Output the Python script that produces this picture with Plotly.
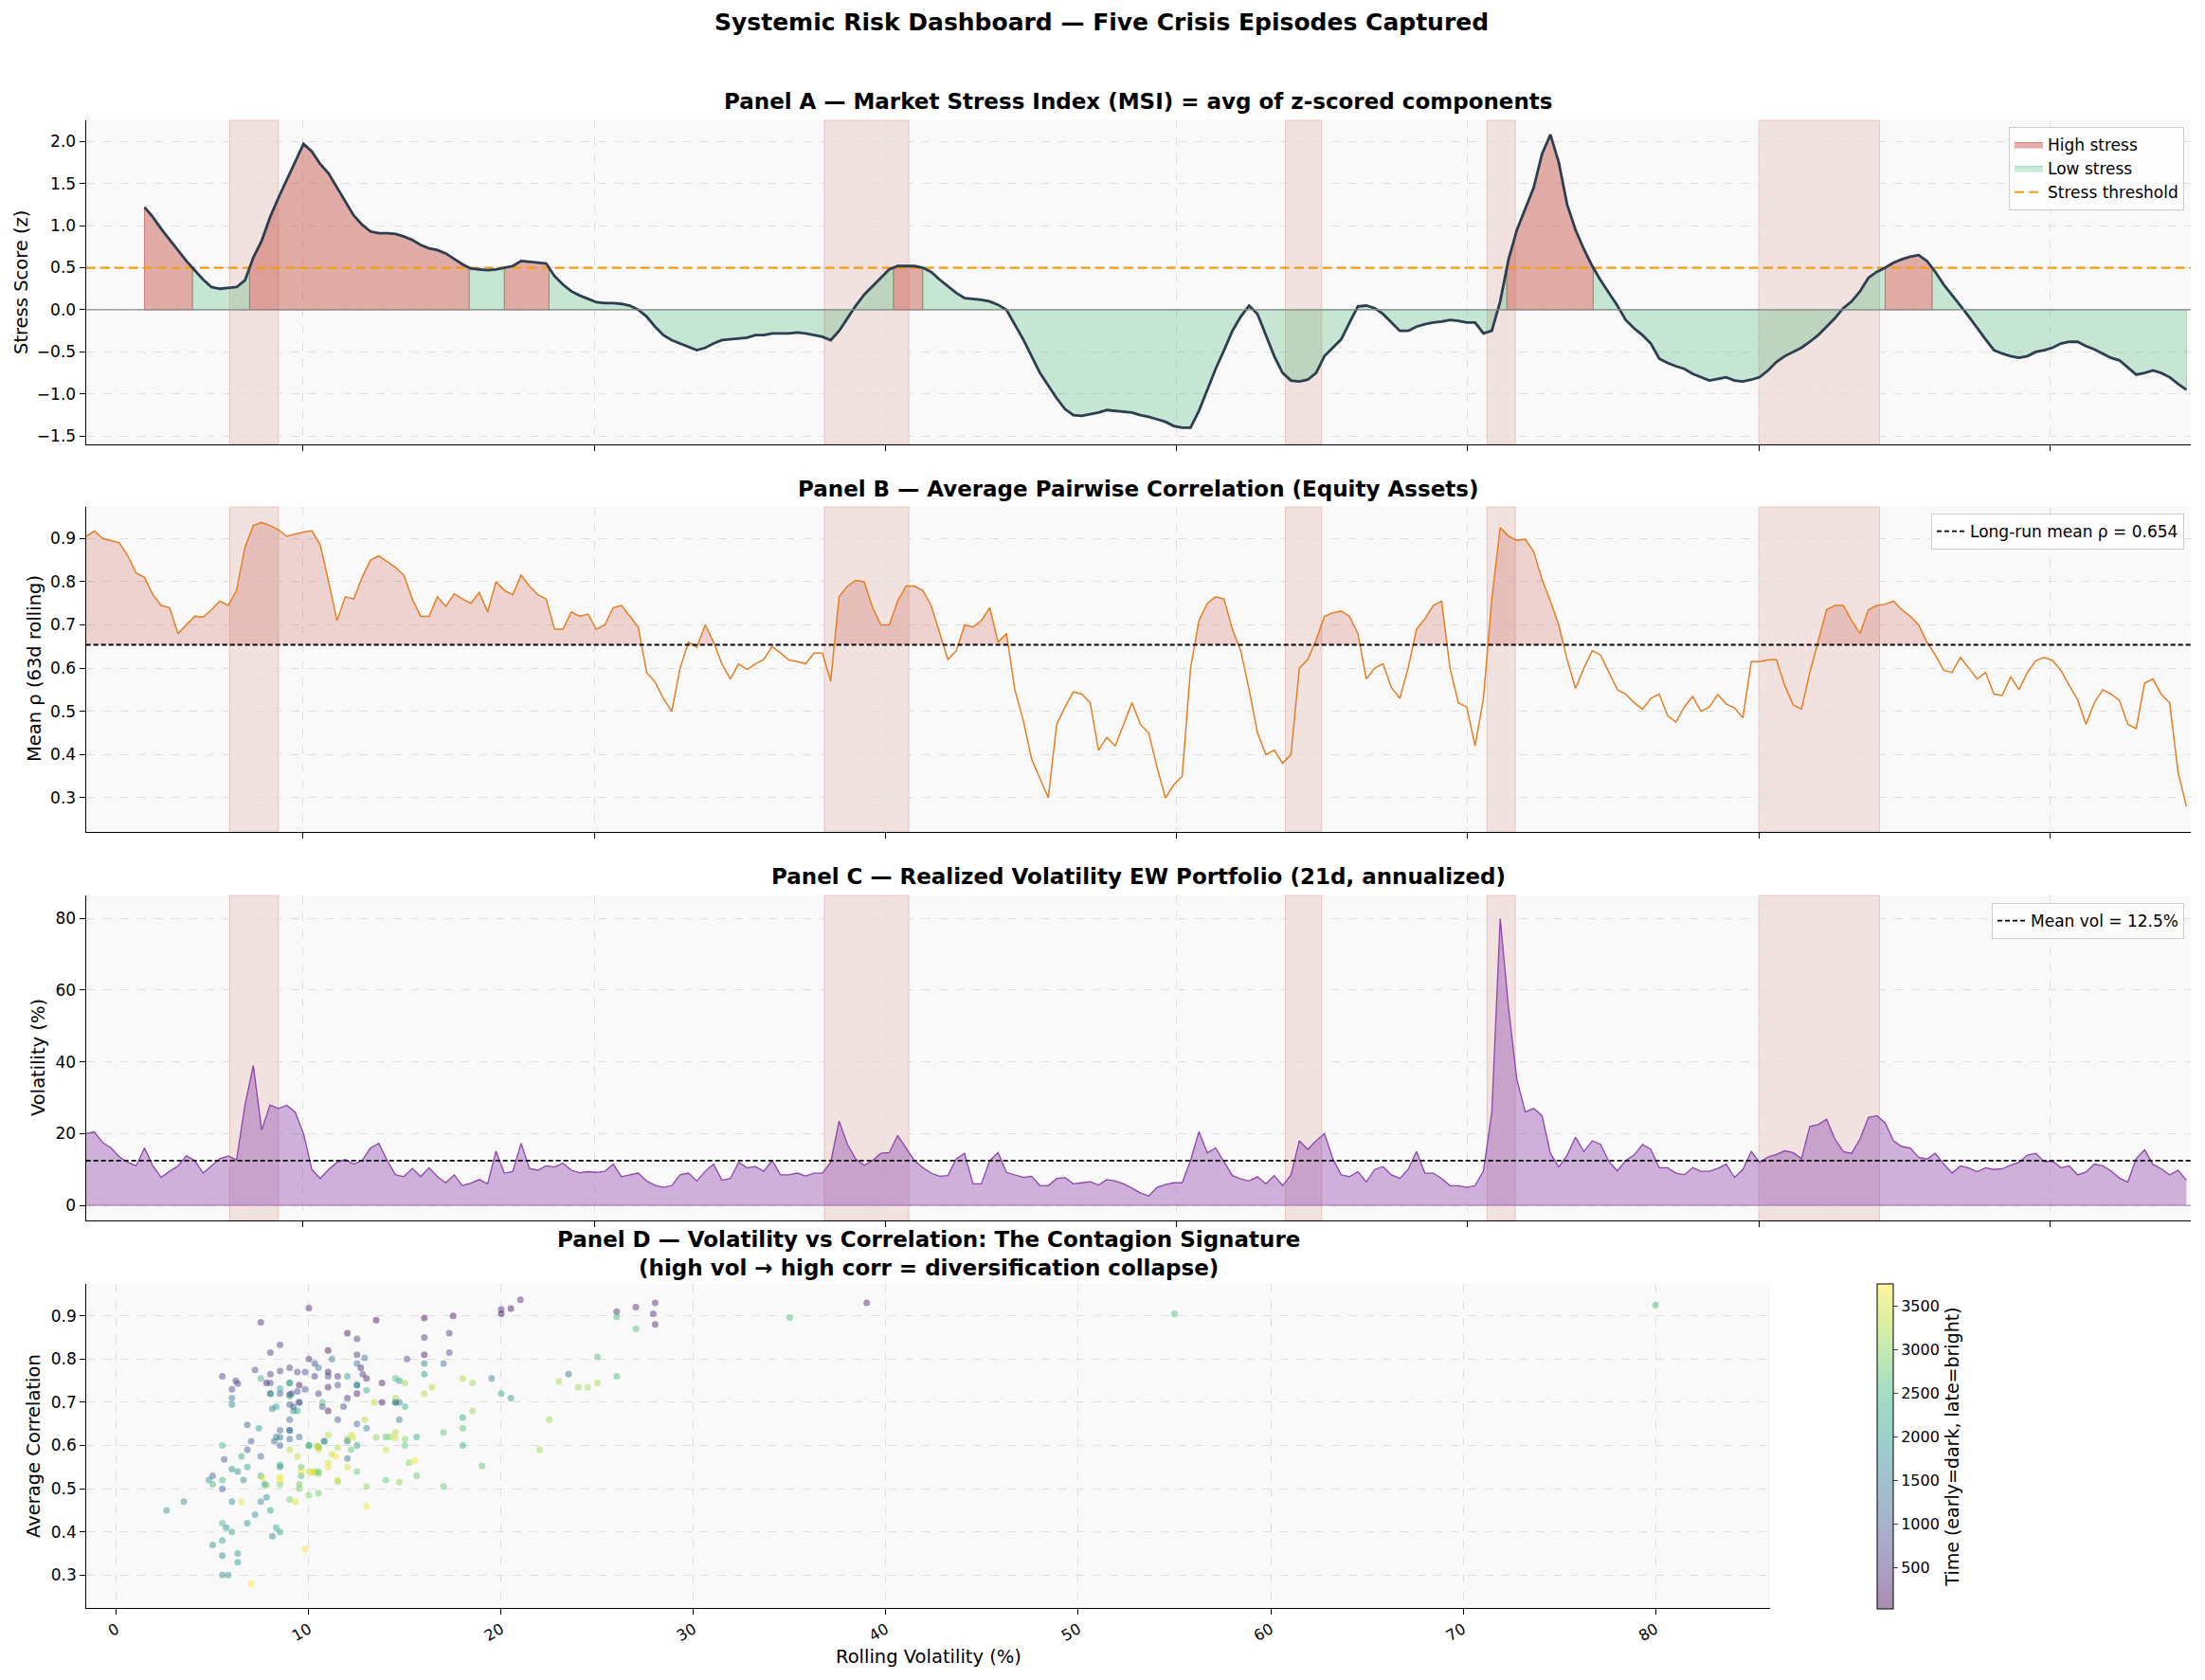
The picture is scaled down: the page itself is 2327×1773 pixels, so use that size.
import numpy as np
import pandas as pd
import plotly.graph_objects as go

W, H = 2327, 1773

# ---------------- data ----------------
START_DATE = "2010-07-05"
END_DATE = "2024-12-20"
SAMPLE_STEP_BDAYS = 15

msi_values = [None, None, None, None, None, None, None,
    1.22, 1.10, 0.96, 0.83, 0.70, 0.58, 0.47, 0.36, 0.27, 0.25, 0.26, 0.27, 0.35, 0.62,
    0.82, 1.10, 1.33, 1.55, 1.76, 1.97, 1.88, 1.73, 1.62, 1.45, 1.28, 1.12, 1.01, 0.93,
    0.91, 0.91, 0.90, 0.87, 0.83, 0.77,
    0.73, 0.71, 0.67, 0.60, 0.54, 0.49, 0.48, 0.47, 0.48, 0.50, 0.52, 0.58, 0.57, 0.56, 0.55, 0.40, 0.30, 0.22, 0.17, 0.13,
    0.09, 0.08, 0.08, 0.07, 0.05, 0.00, -0.08, -0.20, -0.30, -0.36, -0.40, -0.44, -0.48, -0.45, -0.40, -0.36, -0.35, -0.34, -0.33, -0.30,
    -0.30, -0.28, -0.28, -0.28, -0.27, -0.28, -0.30, -0.32, -0.36, -0.25, -0.10, 0.05, 0.18, 0.28, 0.38, 0.48, 0.52, 0.52, 0.52, 0.50,
    0.45, 0.36, 0.28, 0.20, 0.14, 0.13, 0.12, 0.10, 0.06, 0.00, -0.18, -0.35, -0.55, -0.75, -0.90, -1.05, -1.18, -1.25, -1.26, -1.24,
    -1.22, -1.19, -1.20, -1.21, -1.22, -1.25, -1.27, -1.30, -1.33, -1.38, -1.40, -1.40, -1.20, -0.95, -0.70, -0.48, -0.25, -0.08, 0.05, -0.05,
    -0.30, -0.55, -0.75, -0.84, -0.85, -0.83, -0.75, -0.55, -0.45, -0.35, -0.15, 0.04, 0.05, 0.02, -0.05, -0.15, -0.25, -0.25, -0.20, -0.17,
    -0.15, -0.14, -0.12, -0.13, -0.15, -0.15, -0.28, -0.25, 0.10, 0.60, 0.95, 1.20, 1.45, 1.85, 2.08, 1.75, 1.25, 0.95, 0.72, 0.52,
    0.35, 0.20, 0.05, -0.12, -0.22, -0.30, -0.40, -0.58, -0.63, -0.67, -0.70, -0.76, -0.80, -0.84, -0.82, -0.80, -0.84, -0.85, -0.83, -0.80,
    -0.72, -0.62, -0.55, -0.50, -0.45, -0.38, -0.30, -0.20, -0.10, 0.02, 0.10, 0.22, 0.38, 0.45, 0.50, 0.56, 0.60, 0.63, 0.65, 0.58,
    0.45, 0.30, 0.18, 0.05, -0.08, -0.22, -0.35, -0.48, -0.52, -0.55, -0.57, -0.55, -0.50, -0.48, -0.45, -0.40, -0.38, -0.38, -0.43, -0.47,
    -0.52, -0.57, -0.60, -0.68, -0.77, -0.75, -0.72, -0.75, -0.80, -0.88, -0.95]

avg_corr_values = [
    0.905, 0.917, 0.90, 0.895, 0.89, 0.86, 0.82, 0.81, 0.77, 0.745,
    0.74, 0.68, 0.70, 0.72, 0.718, 0.735, 0.755, 0.745, 0.78, 0.88,
    0.93, 0.937, 0.93, 0.92, 0.905, 0.91, 0.915, 0.918, 0.885, 0.80,
    0.71, 0.765, 0.76, 0.81, 0.85, 0.86, 0.847, 0.833, 0.815, 0.76,
    0.72, 0.72, 0.765, 0.743, 0.772, 0.76, 0.75, 0.775, 0.73, 0.80,
    0.78, 0.77, 0.815, 0.79, 0.77, 0.76, 0.69, 0.69, 0.73, 0.72,
    0.725, 0.69, 0.70, 0.74, 0.745, 0.72, 0.695, 0.59, 0.568, 0.53,
    0.50, 0.60, 0.66, 0.648, 0.70, 0.66, 0.61, 0.575, 0.61, 0.597,
    0.61, 0.62, 0.65, 0.635, 0.619, 0.615, 0.61, 0.635, 0.635, 0.57,
    0.765, 0.79, 0.803, 0.80, 0.74, 0.70, 0.70, 0.755, 0.79, 0.79,
    0.78, 0.745, 0.685, 0.62, 0.64, 0.70, 0.695, 0.71, 0.74, 0.66,
    0.68, 0.55, 0.48, 0.39, 0.345, 0.30, 0.47, 0.51, 0.545, 0.54,
    0.52, 0.41, 0.44, 0.42, 0.47, 0.52, 0.47, 0.45, 0.37, 0.30,
    0.33, 0.35, 0.60, 0.71, 0.75, 0.765, 0.76, 0.69, 0.64, 0.55,
    0.45, 0.40, 0.41, 0.38, 0.40, 0.60, 0.62, 0.665, 0.72, 0.728,
    0.732, 0.72, 0.68, 0.575, 0.60, 0.61, 0.555, 0.53, 0.60, 0.69,
    0.714, 0.745, 0.755, 0.60, 0.52, 0.51, 0.42, 0.53, 0.76, 0.925,
    0.905, 0.896, 0.898, 0.87, 0.805, 0.755, 0.70, 0.62, 0.553, 0.60,
    0.64, 0.63, 0.59, 0.55, 0.54, 0.52, 0.505, 0.53, 0.54, 0.49,
    0.475, 0.51, 0.535, 0.50, 0.51, 0.539, 0.517, 0.508, 0.485, 0.615,
    0.615, 0.619, 0.62, 0.56, 0.515, 0.505, 0.59, 0.66, 0.735, 0.745,
    0.745, 0.71, 0.68, 0.735, 0.745, 0.748, 0.755, 0.735, 0.72, 0.70,
    0.66, 0.63, 0.595, 0.59, 0.625, 0.60, 0.575, 0.59, 0.54, 0.537,
    0.58, 0.55, 0.59, 0.617, 0.625, 0.618, 0.595, 0.56, 0.527, 0.47,
    0.52, 0.55, 0.54, 0.525, 0.47, 0.46, 0.565, 0.575, 0.539, 0.52,
    0.36, 0.28]

ew_vol_values = [
    20, 20.5, 17.5, 16, 13.5, 12, 11, 16, 11, 7.8,
    9.5, 11, 13.8, 12.5, 9, 11, 13, 13.8, 12.7, 28,
    39, 21, 28, 27, 27.9, 26, 20, 10, 7.5, 10,
    12, 12.8, 11.5, 12.5, 16, 17.3, 12.5, 8.5, 8, 10.3,
    8, 10.5, 8, 6.3, 8.5, 5.5, 6.2, 7.2, 6, 15.1,
    9, 9.4, 17.3, 10.3, 9.8, 11, 10.7, 11.8, 9.8, 9.1,
    9.4, 9.2, 9.5, 11.5, 8, 8.5, 9, 6.8, 5.6, 5,
    5.5, 8.5, 9, 6.8, 9.5, 11.5, 7, 7.5, 12, 10.5,
    10.8, 9.5, 12.5, 8.5, 8.5, 9, 8.2, 9, 9, 12,
    23.5, 17, 12.9, 11.2, 12.5, 14.5, 14.7, 19.5, 16, 12.5,
    10.5, 9, 8.1, 8.3, 13, 14.5, 6, 6, 12.5, 14.7,
    9.2, 8.5, 7.8, 8.1, 5.5, 5.5, 7.5, 7.7, 6, 6.3,
    6.6, 5.7, 7.2, 6.8, 6, 4.8, 3.5, 2.6, 5, 5.8,
    6.3, 6.3, 12.5, 20.5, 14.7, 16, 12, 8.3, 7.4, 6.8,
    8, 6, 8.3, 5.5, 8.5, 18, 15.6, 18, 20, 13,
    8.5, 8, 9.4, 6.5, 10, 10.8, 8.5, 7.5, 10, 15,
    9, 9, 7.5, 5.5, 5.5, 5, 5.5, 9.6, 26, 80,
    55, 35, 26, 27, 25, 14.5, 10.7, 14, 19, 15,
    18, 17, 12.2, 9.6, 12.5, 14, 17, 15.6, 10.5, 10.5,
    9, 8.5, 10.5, 9.5, 9.5, 10.3, 11.5, 7.8, 10, 15,
    12, 13.5, 14.2, 15.2, 14.7, 13, 22, 22.5, 24, 18.5,
    15, 14.5, 18.5, 24.5, 25, 23, 18, 16.4, 16, 13.4,
    12.9, 14.5, 11.5, 9, 11, 10.4, 9.4, 10.5, 10, 10.2,
    11.2, 12, 14, 14.5, 12.2, 12.3, 10.5, 11, 8.5, 9.3,
    11.5, 11, 9.6, 7.6, 6.5, 13, 15.5, 11.4, 10.2, 8.5,
    9.8, 7]

STRESS_THRESHOLD = 0.5
LONG_RUN_MEAN_CORR = 0.654
MEAN_VOL = 12.5

crisis_starts = ["2011-07-01", "2015-08-01", "2018-10-01", "2020-02-19", "2022-01-01"]
crisis_ends = ["2011-10-31", "2016-02-29", "2018-12-31", "2020-04-30", "2022-10-31"]

time_ticks = ["2012-01-01", "2014-01-01", "2016-01-01", "2018-01-01",
              "2020-01-01", "2022-01-01", "2024-01-01"]
msi_ticks = [-1.5, -1.0, -0.5, 0.0, 0.5, 1.0, 1.5, 2.0]
corr_ticks = [0.3, 0.4, 0.5, 0.6, 0.7, 0.8, 0.9]
vol_ticks = [0, 20, 40, 60, 80]
scatter_vol_ticks = [0, 10, 20, 30, 40, 50, 60, 70, 80]
colorbar_ticks = [500, 1000, 1500, 2000, 2500, 3000, 3500]

# ---------------- styles ----------------
FONT = "DejaVu Sans"
BG = "#f9f9f9"
GRID = "#dedede"
RED_FILL = "rgba(192,57,43,0.4)"
RED_EDGE = "rgba(192,57,43,0.55)"
GREEN_FILL = "rgba(39,174,96,0.25)"
GREEN_EDGE = "rgba(39,174,96,0.4)"
CRISIS_FILL = "rgba(192,57,43,0.12)"
CRISIS_EDGE = "rgba(192,57,43,0.22)"
CORR_FILL = "rgba(192,57,43,0.2)"
ORANGE = "#e67e22"
PURPLE = "#8e44ad"
NAVY = "#2c3e50"
THRESH = "#f39c12"
VIRIDIS = ['#440154', '#482878', '#3e4989', '#31688e', '#26828e',
           '#1f9e89', '#35b779', '#6ece58', '#b5de2b', '#fde725']

def px_x(p):
    return p / W

def px_y(p):
    return 1 - p / H

# ---------------- derived ----------------
n = len(avg_corr_values)
dates = pd.date_range(START_DATE, periods=n, freq=pd.offsets.BDay(SAMPLE_STEP_BDAYS))
x_ms = [(d - pd.Timestamp("1970-01-01")) / pd.Timedelta(milliseconds=1) for d in dates]
time_index = np.arange(n) * SAMPLE_STEP_BDAYS


def threshold_runs(xs, vals, level, keep_above):
    def inside(v):
        return (v > level) if keep_above else (v <= level)
    runs, cur = [], []
    for k in range(len(vals)):
        v = vals[k]
        if v is None:
            if cur:
                runs.append(cur)
                cur = []
            continue
        if inside(v):
            cur.append((xs[k], v))
        if k + 1 < len(vals) and vals[k + 1] is not None:
            v2 = vals[k + 1]
            if inside(v) != inside(v2):
                t = (level - v) / (v2 - v)
                xc = xs[k] + t * (xs[k + 1] - xs[k])
                if inside(v):
                    cur.append((xc, level))
                    runs.append(cur)
                    cur = []
                else:
                    cur = [(xc, level)]
    if cur:
        runs.append(cur)
    return runs


def polygons(runs, base):
    X, Y = [], []
    for run in runs:
        xs = [p[0] for p in run]
        ys = [p[1] for p in run]
        X += xs + xs[::-1] + [xs[0], None]
        Y += ys + [base] * len(xs) + [ys[0], None]
    Xd = [pd.to_datetime(x, unit="ms").strftime("%Y-%m-%d %H:%M:%S") if x is not None else None for x in X]
    return Xd, Y


fig = go.Figure()

# ---- Panel A ----
hx, hy = polygons(threshold_runs(x_ms, msi_values, STRESS_THRESHOLD, True), 0.0)
lx, ly = polygons(threshold_runs(x_ms, msi_values, STRESS_THRESHOLD, False), 0.0)
fig.add_trace(go.Scatter(x=hx, y=hy, fill="toself", fillcolor=RED_FILL, mode="lines",
                         line=dict(color=RED_EDGE, width=1), name="High stress",
                         legend="legend", xaxis="x", yaxis="y", hoverinfo="skip"))
fig.add_trace(go.Scatter(x=lx, y=ly, fill="toself", fillcolor=GREEN_FILL, mode="lines",
                         line=dict(color=GREEN_EDGE, width=1), name="Low stress",
                         legend="legend", xaxis="x", yaxis="y", hoverinfo="skip"))
fig.add_trace(go.Scatter(x=[START_DATE, END_DATE], y=[STRESS_THRESHOLD, STRESS_THRESHOLD],
                         mode="lines", line=dict(color=THRESH, width=2.2, dash="10px,5px"),
                         name="Stress threshold", legend="legend", xaxis="x", yaxis="y"))
fig.add_trace(go.Scatter(x=dates, y=msi_values, mode="lines", line=dict(color=NAVY, width=2.8),
                         showlegend=False, xaxis="x", yaxis="y", connectgaps=False))

# ---- Panel B ----
cx, cy = polygons(threshold_runs(x_ms, avg_corr_values, LONG_RUN_MEAN_CORR, True), LONG_RUN_MEAN_CORR)
fig.add_trace(go.Scatter(x=cx, y=cy, fill="toself", fillcolor=CORR_FILL, mode="none",
                         showlegend=False, xaxis="x2", yaxis="y2", hoverinfo="skip"))
fig.add_trace(go.Scatter(x=dates, y=avg_corr_values, mode="lines", line=dict(color=ORANGE, width=1.5),
                         showlegend=False, xaxis="x2", yaxis="y2"))
fig.add_trace(go.Scatter(x=[START_DATE, END_DATE], y=[LONG_RUN_MEAN_CORR] * 2, mode="lines",
                         line=dict(color="black", width=1.8, dash="5px,3px"),
                         name=f"Long-run mean ρ = {LONG_RUN_MEAN_CORR:.3f}",
                         legend="legend2", xaxis="x2", yaxis="y2"))

# ---- Panel C ----
fig.add_trace(go.Scatter(x=dates, y=ew_vol_values, mode="lines", fill="tozeroy",
                         fillcolor="rgba(142,68,173,0.4)", line=dict(color=PURPLE, width=1.3),
                         showlegend=False, xaxis="x3", yaxis="y3"))
fig.add_trace(go.Scatter(x=[START_DATE, END_DATE], y=[MEAN_VOL] * 2, mode="lines",
                         line=dict(color="black", width=1.8, dash="5px,3px"),
                         name=f"Mean vol = {MEAN_VOL:.1f}%", legend="legend3",
                         xaxis="x3", yaxis="y3"))

# ---- Panel D ----
alpha_scale = []
for k, c in enumerate(VIRIDIS):
    r, g, b = int(c[1:3], 16), int(c[3:5], 16), int(c[5:7], 16)
    alpha_scale.append([k / (len(VIRIDIS) - 1), f"rgba({r},{g},{b},0.45)"])

fig.add_trace(go.Scatter(
    x=ew_vol_values, y=avg_corr_values, mode="markers", xaxis="x4", yaxis="y4", showlegend=False,
    marker=dict(size=7, color=time_index, colorscale=alpha_scale, cmin=30, cmax=3750,
                line=dict(width=0),
                colorbar=dict(x=px_x(1981), xanchor="left", y=px_y(1355), yanchor="top",
                              len=(1698 - 1355) / H, lenmode="fraction", thickness=17,
                              thicknessmode="pixels", xpad=0, ypad=0,
                              outlinecolor="black", outlinewidth=1,
                              tickvals=colorbar_ticks, ticks="outside", ticklen=5,
                              tickfont=dict(size=16, family=FONT, color="black"),
                              title=dict(text="Time (early=dark, late=bright)", side="right",
                                         font=dict(size=19, family=FONT, color="black")))),
))

# ---------------- layout ----------------
xa_dom = [px_x(90.7), px_x(2312)]
xd_dom = [px_x(91.3), px_x(1868)]
dom_A = [px_y(469), px_y(127)]
dom_B = [px_y(878), px_y(535)]
dom_C = [px_y(1288), px_y(945)]
dom_D = [px_y(1697), px_y(1355)]

tickfont = dict(size=17, family=FONT, color="black")


def time_axis(anchor):
    return dict(type="date", domain=xa_dom, anchor=anchor, range=[START_DATE, END_DATE],
                tickvals=time_ticks, showticklabels=False, ticks="outside", ticklen=6,
                tickcolor="black", showline=True, linecolor="black", linewidth=1.3,
                showgrid=True, gridcolor=GRID, griddash="dash", gridwidth=1, zeroline=False)


def value_axis(anchor, dom, rng, ticks, fmt):
    return dict(domain=dom, anchor=anchor, range=rng, tickvals=ticks, tickformat=fmt,
                ticks="outside", ticklen=6, tickcolor="black", showline=True, linecolor="black",
                linewidth=1.3, showgrid=True, gridcolor=GRID, griddash="dash", gridwidth=1,
                zeroline=False, tickfont=tickfont)


shapes = []
for xr, yr in [("x", "y"), ("x2", "y2"), ("x3", "y3")]:
    for s, e in zip(crisis_starts, crisis_ends):
        shapes.append(dict(type="rect", xref=xr, yref=f"{yr} domain", x0=s, x1=e, y0=0, y1=1,
                           fillcolor=CRISIS_FILL, line=dict(color=CRISIS_EDGE, width=1),
                           layer="below"))
shapes.append(dict(type="line", xref="x domain", yref="y", x0=0, x1=1, y0=0, y1=0,
                   line=dict(color="#8a8a8a", width=1.2), layer="above"))
shapes.append(dict(type="line", xref="x3 domain", yref="y3", x0=0, x1=1, y0=0, y1=0,
                   line=dict(color="rgba(142,68,173,0.55)", width=1.2), layer="above"))

title_font = dict(size=23, family=FONT, color="black")
label_font = dict(size=19.5, family=FONT, color="black")
annotations = [
    dict(text="<b>Systemic Risk Dashboard — Five Crisis Episodes Captured</b>", x=px_x(1162),
         y=px_y(24), xref="paper", yref="paper", showarrow=False, xanchor="center",
         yanchor="middle", font=dict(size=25, family=FONT, color="black")),
    dict(text="<b>Panel A — Market Stress Index (MSI) = avg of z-scored components</b>",
         x=px_x(1201), y=px_y(107), xref="paper", yref="paper", showarrow=False,
         xanchor="center", yanchor="middle", font=title_font),
    dict(text="<b>Panel B — Average Pairwise Correlation (Equity Assets)</b>",
         x=px_x(1201), y=px_y(516), xref="paper", yref="paper", showarrow=False,
         xanchor="center", yanchor="middle", font=title_font),
    dict(text="<b>Panel C — Realized Volatility EW Portfolio (21d, annualized)</b>",
         x=px_x(1201), y=px_y(925), xref="paper", yref="paper", showarrow=False,
         xanchor="center", yanchor="middle", font=title_font),
    dict(text="<b>Panel D — Volatility vs Correlation: The Contagion Signature</b><br>"
              "<b>(high vol → high corr = diversification collapse)</b>",
         x=px_x(980), y=px_y(1323), xref="paper", yref="paper", showarrow=False,
         xanchor="center", yanchor="middle", font=title_font),
    dict(text="Stress Score (z)", x=px_x(22), y=px_y(298), xref="paper", yref="paper",
         showarrow=False, textangle=-90, xanchor="center", yanchor="middle", font=label_font),
    dict(text="Mean ρ (63d rolling)", x=px_x(36), y=px_y(706), xref="paper", yref="paper",
         showarrow=False, textangle=-90, xanchor="center", yanchor="middle", font=label_font),
    dict(text="Volatility (%)", x=px_x(40), y=px_y(1116), xref="paper", yref="paper",
         showarrow=False, textangle=-90, xanchor="center", yanchor="middle", font=label_font),
    dict(text="Average Correlation", x=px_x(35), y=px_y(1526), xref="paper", yref="paper",
         showarrow=False, textangle=-90, xanchor="center", yanchor="middle", font=label_font),
    dict(text="Rolling Volatility (%)", x=px_x(980), y=px_y(1748), xref="paper", yref="paper",
         showarrow=False, xanchor="center", yanchor="middle", font=label_font),
]

legend_style = dict(bgcolor="rgba(255,255,255,0.85)", bordercolor="#cccccc", borderwidth=1,
                    font=dict(size=17, family=FONT, color="black"), xanchor="right",
                    yanchor="top", xref="paper", yref="paper")

fig.update_layout(
    width=W, height=H, margin=dict(l=0, r=0, t=0, b=0, autoexpand=False),
    paper_bgcolor="white", plot_bgcolor=BG, font=dict(family=FONT, color="black"),
    xaxis=time_axis("y"),
    xaxis2=dict(time_axis("y2"), matches="x"),
    xaxis3=dict(time_axis("y3"), matches="x"),
    xaxis4=dict(domain=xd_dom, anchor="y4", range=[-1.56, 85.96], tickvals=scatter_vol_ticks,
                tickangle=-30, ticks="outside", ticklen=6, tickcolor="black", showline=True,
                linecolor="black", linewidth=1.3, showgrid=True, gridcolor=GRID, griddash="dash",
                zeroline=False, tickfont=dict(size=16, family=FONT, color="black")),
    yaxis=value_axis("x", dom_A, [-1.598, 2.25], msi_ticks, ".1f"),
    yaxis2=value_axis("x2", dom_B, [0.221, 0.973], corr_ticks, ".1f"),
    yaxis3=value_axis("x3", dom_C, [-4.2, 86.4], vol_ticks, "d"),
    yaxis4=value_axis("x4", dom_D, [0.224, 0.974], corr_ticks, ".1f"),
    legend=dict(legend_style, x=px_x(2305), y=px_y(134)),
    legend2=dict(legend_style, x=px_x(2305), y=px_y(542)),
    legend3=dict(legend_style, x=px_x(2305), y=px_y(953)),
    shapes=shapes,
    annotations=annotations,
)

fig.write_html("out.html")
